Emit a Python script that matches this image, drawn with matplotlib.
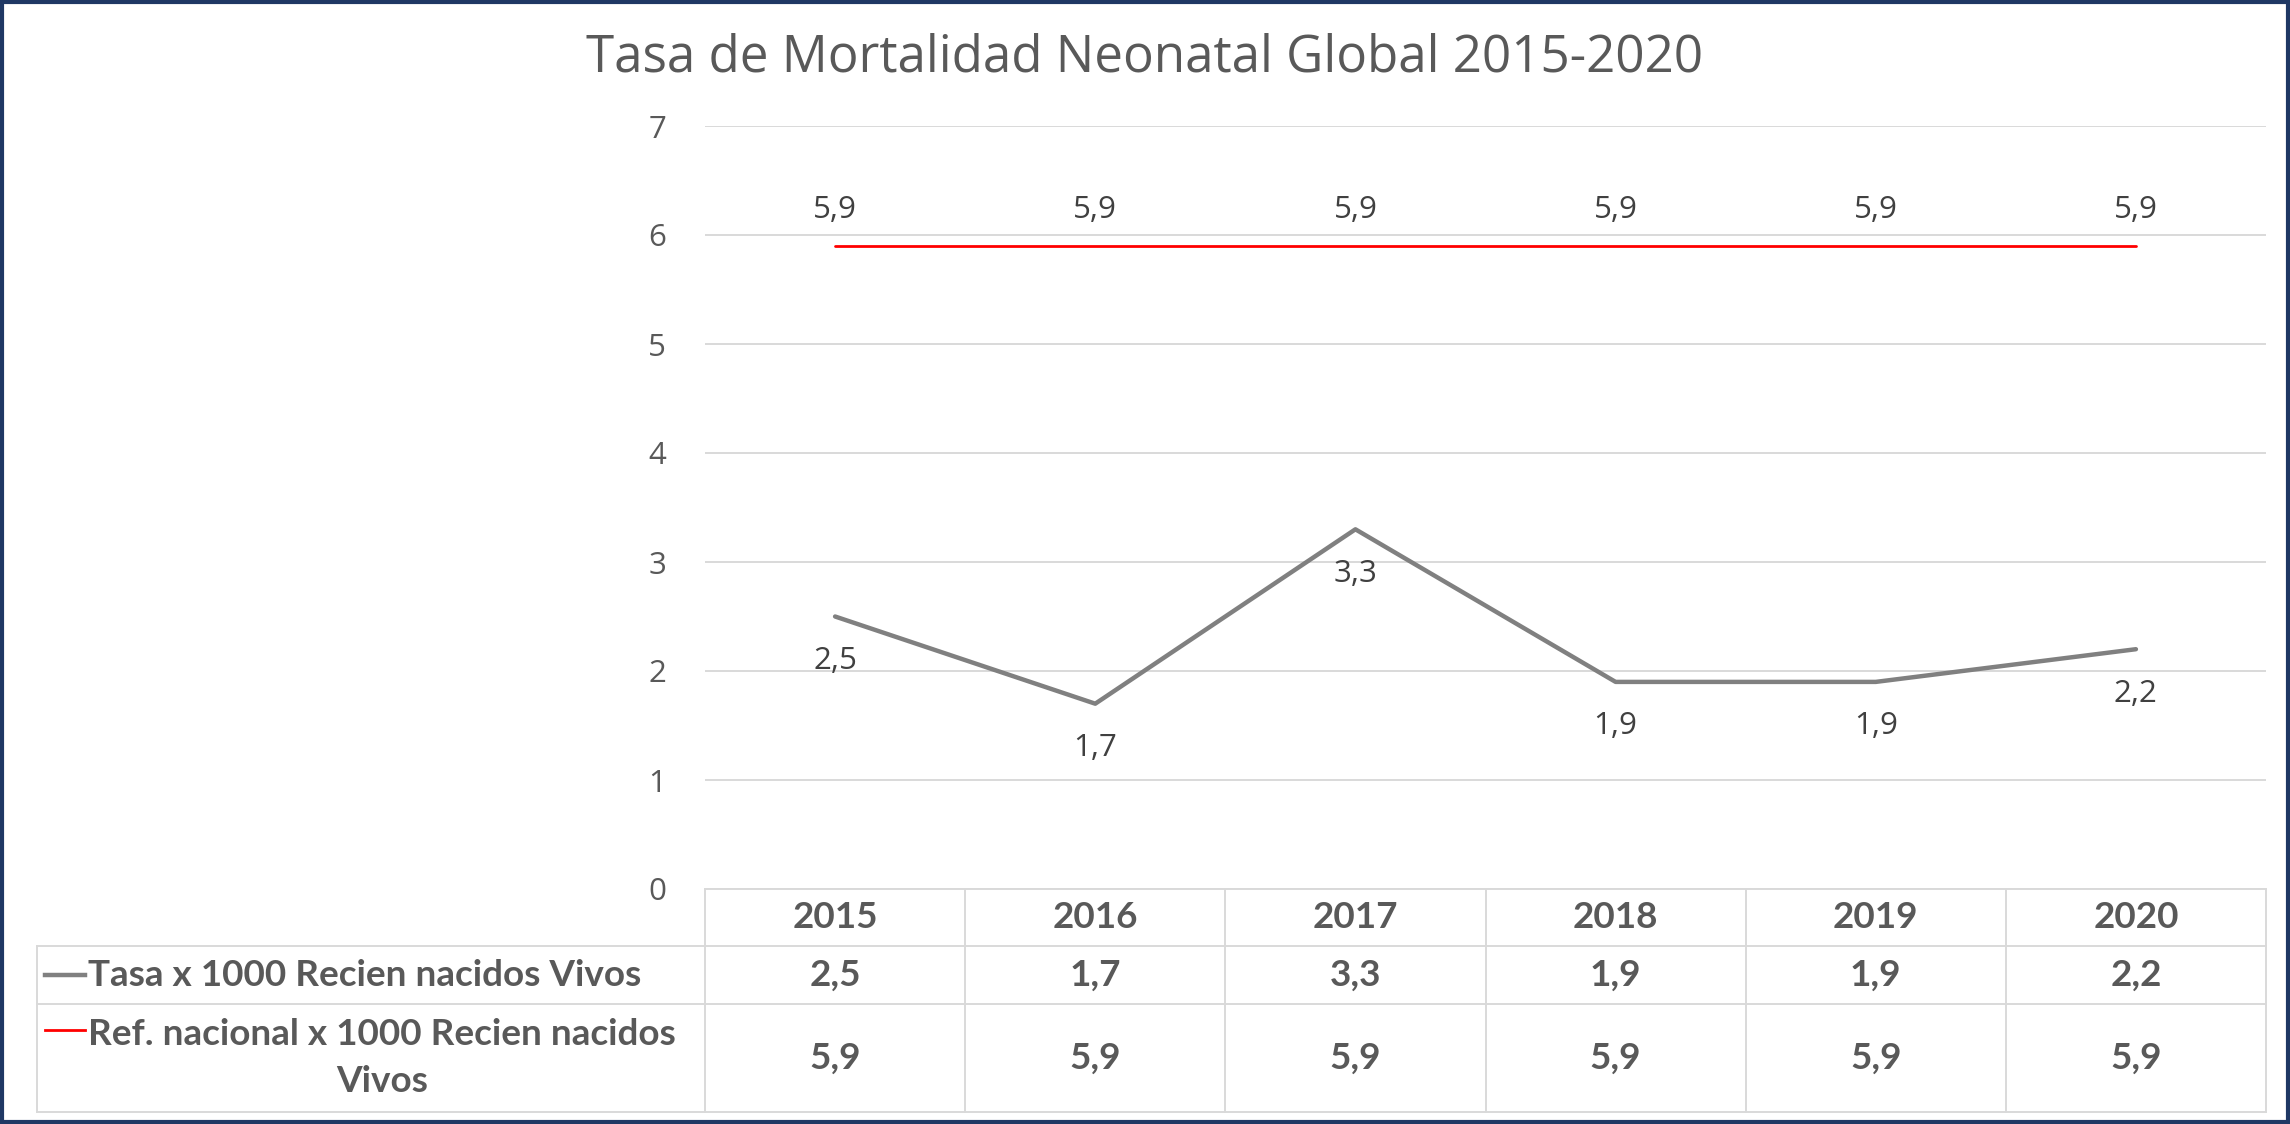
import matplotlib.pyplot as plt
from matplotlib.patches import Rectangle

years = ["2015", "2016", "2017", "2018", "2019", "2020"]
tasa = [2.5, 1.7, 3.3, 1.9, 1.9, 2.2]
ref_nacional = [5.9, 5.9, 5.9, 5.9, 5.9, 5.9]
serie_tasa = "Tasa x 1000 Recien nacidos Vivos"
serie_ref = "Ref. nacional x 1000 Recien nacidos\nVivos"
titulo = "Tasa de Mortalidad Neonatal Global 2015-2020"

gris = "#808080"
rojo = "#ff0000"
texto = "#595959"
rejilla = "#d9d9d9"

fig = plt.figure(figsize=(22.9, 11.24), dpi=100)
ax = fig.add_axes([705 / 2290, 235 / 1124, 1561 / 2290, 763 / 1124])

x = list(range(len(years)))
ax.plot(x, tasa, color=gris, lw=3.2, solid_capstyle="round", zorder=3)
ax.plot(x, ref_nacional, color=rojo, lw=2.0, solid_capstyle="round", zorder=3)

for xi, v in zip(x, tasa):
    ax.annotate(f"{v:.1f}".replace(".", ","), (xi, v), xytext=(0, -32),
                textcoords="offset points", ha="center", va="center",
                fontsize=22.5, color="#404040", family="Open Sans")
for xi, v in zip(x, ref_nacional):
    ax.annotate(f"{v:.1f}".replace(".", ","), (xi, v), xytext=(0, 26),
                textcoords="offset points", ha="center", va="center",
                fontsize=22.5, color="#404040", family="Open Sans")

ax.set_xlim(-0.5, len(years) - 0.5)
ax.set_ylim(0, 7)
ax.set_yticks(range(0, 8))
ax.set_xticks([])
ax.grid(axis="y", color=rejilla, lw=1.4)
ax.set_axisbelow(True)
for s in ax.spines.values():
    s.set_visible(False)
ax.tick_params(axis="y", length=0, pad=28, labelsize=22.5, labelcolor=texto)
for lab in ax.get_yticklabels():
    lab.set_family("Open Sans")

fig.text(1145 / 2290, 1 - 58 / 1124, titulo, ha="center", va="center",
         fontsize=36.8, color=texto, family="Open Sans")

# data table below the plot
tr = ax.transAxes
h = 763.0
y_rows = [0, -57 / h, -115 / h, -223 / h]
x_left = (37 - 705) / 1561
n = len(years)
lk = dict(color=rejilla, lw=1.4, transform=tr, clip_on=False)
ax.plot([0, 1], [y_rows[0], y_rows[0]], **lk)
for yr in y_rows[1:]:
    ax.plot([x_left, 1], [yr, yr], **lk)
for i in range(n + 1):
    ax.plot([i / n, i / n], [y_rows[0], y_rows[3]], **lk)
ax.plot([x_left, x_left], [y_rows[1], y_rows[3]], **lk)

tk = dict(ha="center", va="center", fontsize=26.6, color=texto,
          fontweight="bold", family="Lato", transform=tr, clip_on=False)
for i, yr in enumerate(years):
    cx = (i + 0.5) / n
    ax.text(cx, (y_rows[0] + y_rows[1]) / 2, yr, **tk)
    ax.text(cx, (y_rows[1] + y_rows[2]) / 2, f"{tasa[i]:.1f}".replace(".", ","), **tk)
    ax.text(cx, (y_rows[2] + y_rows[3]) / 2, f"{ref_nacional[i]:.1f}".replace(".", ","), **tk)

ym1 = (y_rows[1] + y_rows[2]) / 2
ym2 = (y_rows[2] + y_rows[3]) / 2
ax.plot([(45 - 705) / 1561, (85 - 705) / 1561], [ym1, ym1], color=gris, lw=3.2,
        transform=tr, clip_on=False)
ax.plot([(45 - 705) / 1561, (85 - 705) / 1561], [ym2 + 28 / h, ym2 + 28 / h],
        color=rojo, lw=2.0, transform=tr, clip_on=False)
ax.text((88 - 705) / 1561, ym1, serie_tasa, **{**tk, "ha": "left"})
ax.text((88 - 705) / 1561, ym2, serie_ref, multialignment="center", linespacing=1.5,
        **{**tk, "ha": "left"})

fig.patches.append(Rectangle((0.001, 0.002), 0.998, 0.996, transform=fig.transFigure,
                             fill=False, edgecolor="#1f3864", lw=3))

fig.savefig("out.png", dpi=100, facecolor="white")
